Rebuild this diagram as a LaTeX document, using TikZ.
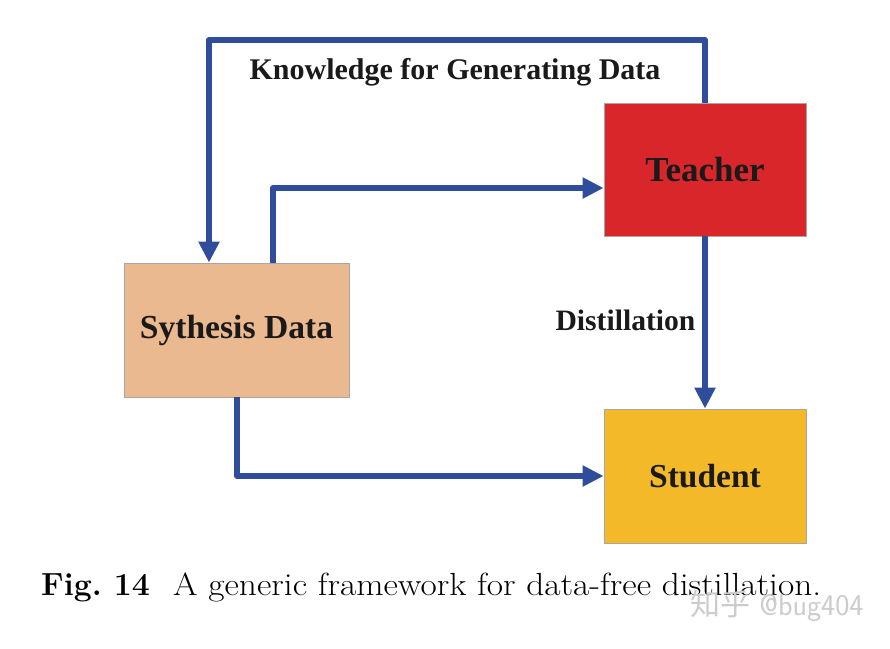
\documentclass[tikz,border=0pt]{standalone}
\usepackage{fontspec}
\newfontfamily\tnr{Liberation Serif}
\newfontfamily\cjk{Noto Sans CJK SC}
\usetikzlibrary{arrows.meta}
\definecolor{arrblue}{HTML}{2F4D9B}
\definecolor{tred}{HTML}{D9262B}
\definecolor{speach}{HTML}{EBB98F}
\definecolor{syellow}{HTML}{F4B929}
\definecolor{ink}{HTML}{1A1A1A}
\begin{document}
\begin{tikzpicture}[x=1pt,y=-1pt,
  box/.style={draw=black!35,line width=0.8pt,minimum width=#1,inner sep=0pt,text=ink},
  bfs/.style={font=\tnr\bfseries\fontsize{#1}{#1}\selectfont},
  arr/.style={draw=arrblue,line width=6pt,line join=round,
    -{Triangle[length=21pt,width=20pt]}},
  lbl/.style={text=ink,inner sep=0pt}]
\fill[white] (0,0) rectangle (890,648);
\useasboundingbox (0,0) rectangle (890,648);
\node[box=202pt,minimum height=133pt,fill=tred,bfs=35] (teacher) at (705,169.5) {Teacher};
\node[box=225pt,minimum height=134pt,fill=speach,bfs=33.6] (synth) at (236.5,330) {Sythesis Data};
\node[box=202pt,minimum height=134pt,fill=syellow,bfs=33.5] (student) at (705,476) {Student};
\draw[arr] (teacher.north) -- (teacher.north |- 0,40) -| ([xshift=-27.5pt]synth.north);
\draw[arr] ([xshift=36.5pt]synth.north) |- (teacher.west |- 0,188);
\draw[arr] (teacher.south) -- (student.north);
\draw[arr] ([xshift=0.5pt]synth.south) |- (student.west);
\node[lbl,bfs=30] (know) at (455,72) {Knowledge for Generating Data};
\node[lbl,bfs=29.6] (dist) at (625.5,320) {Distillation};
\node[anchor=base west,inner sep=0pt,font=\fontsize{32}{36}\selectfont] (fig) at (41,595) {\textbf{Fig.\ 14}};
\node[anchor=base west,inner sep=0pt,font=\fontsize{32}{36}\selectfont] (cap) at (173,595) {\scalebox{1.105}[1]{A generic framework for data-free distillation.}};
\node[anchor=base west,inner sep=0pt,text=black!20,font=\fontsize{30}{34}\selectfont] (wm) at (690,615) {{\cjk 知乎} {\sffamily @bug404}};
\end{tikzpicture}
\end{document}
